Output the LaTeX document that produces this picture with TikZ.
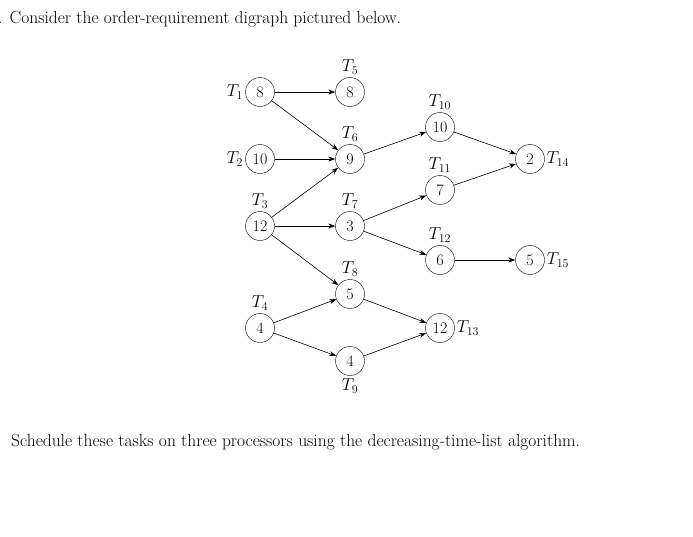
\documentclass[tikz,border=0pt]{standalone}
\usetikzlibrary{arrows.meta,positioning}
\begin{document}
\begin{tikzpicture}[x=1pt,y=-1pt,
  task/.style={circle,draw,minimum size=29pt,inner sep=0pt,font=\fontsize{16}{18}\selectfont},
  lab/.style={font=\fontsize{17.5}{20}\selectfont,inner sep=2pt},
  arr/.style={-{Stealth[length=7pt,width=5pt]},line width=0.6pt}]
\useasboundingbox (0,0) rectangle (693,536);
\node[lab,anchor=west] (top) at (-4,19) {. Consider the order-requirement digraph pictured below.};
\node[lab,anchor=west] (bot) at (9,442) {Schedule these tasks on three processors using the decreasing-time-list algorithm.};
\node[task] (t1) at (260,92) {8};
\node[task] (t2) at (260,159) {10};
\node[task] (t3) at (260,226) {12};
\node[task] (t4) at (260,328) {4};
\node[task] (t5) at (350,92) {8};
\node[task] (t6) at (350,159) {9};
\node[task] (t7) at (350,226) {3};
\node[task] (t8) at (350,294) {5};
\node[task] (t9) at (350,361) {4};
\node[task] (t10) at (440,127) {10};
\node[task] (t11) at (440,190) {7};
\node[task] (t12) at (440,260) {6};
\node[task] (t13) at (440,328) {12};
\node[task] (t14) at (530,159) {2};
\node[task] (t15) at (530,260) {5};
\node[lab,left=0pt of t1] (l1) {$T_1$};
\node[lab,left=0pt of t2] (l2) {$T_2$};
\node[lab,above=1pt of t3] (l3) {$T_3$};
\node[lab,above=1pt of t4] (l4) {$T_4$};
\node[lab,above=1pt of t5] (l5) {$T_5$};
\node[lab,above=1pt of t6] (l6) {$T_6$};
\node[lab,above=1pt of t7] (l7) {$T_7$};
\node[lab,above=1pt of t8] (l8) {$T_8$};
\node[lab,below=1pt of t9] (l9) {$T_9$};
\node[lab,above=1pt of t10] (l10) {$T_{10}$};
\node[lab,above=1pt of t11] (l11) {$T_{11}$};
\node[lab,above=1pt of t12] (l12) {$T_{12}$};
\node[lab,right=0pt of t13] (l13) {$T_{13}$};
\node[lab,right=0pt of t14] (l14) {$T_{14}$};
\node[lab,right=0pt of t15] (l15) {$T_{15}$};
\draw[arr] (t1)--(t5); \draw[arr] (t1)--(t6); \draw[arr] (t2)--(t6);
\draw[arr] (t3)--(t6); \draw[arr] (t3)--(t7); \draw[arr] (t3)--(t8);
\draw[arr] (t4)--(t8); \draw[arr] (t4)--(t9);
\draw[arr] (t6)--(t10); \draw[arr] (t7)--(t11); \draw[arr] (t7)--(t12);
\draw[arr] (t8)--(t13); \draw[arr] (t9)--(t13);
\draw[arr] (t10)--(t14); \draw[arr] (t11)--(t14); \draw[arr] (t12)--(t15);
\end{tikzpicture}
\end{document}
